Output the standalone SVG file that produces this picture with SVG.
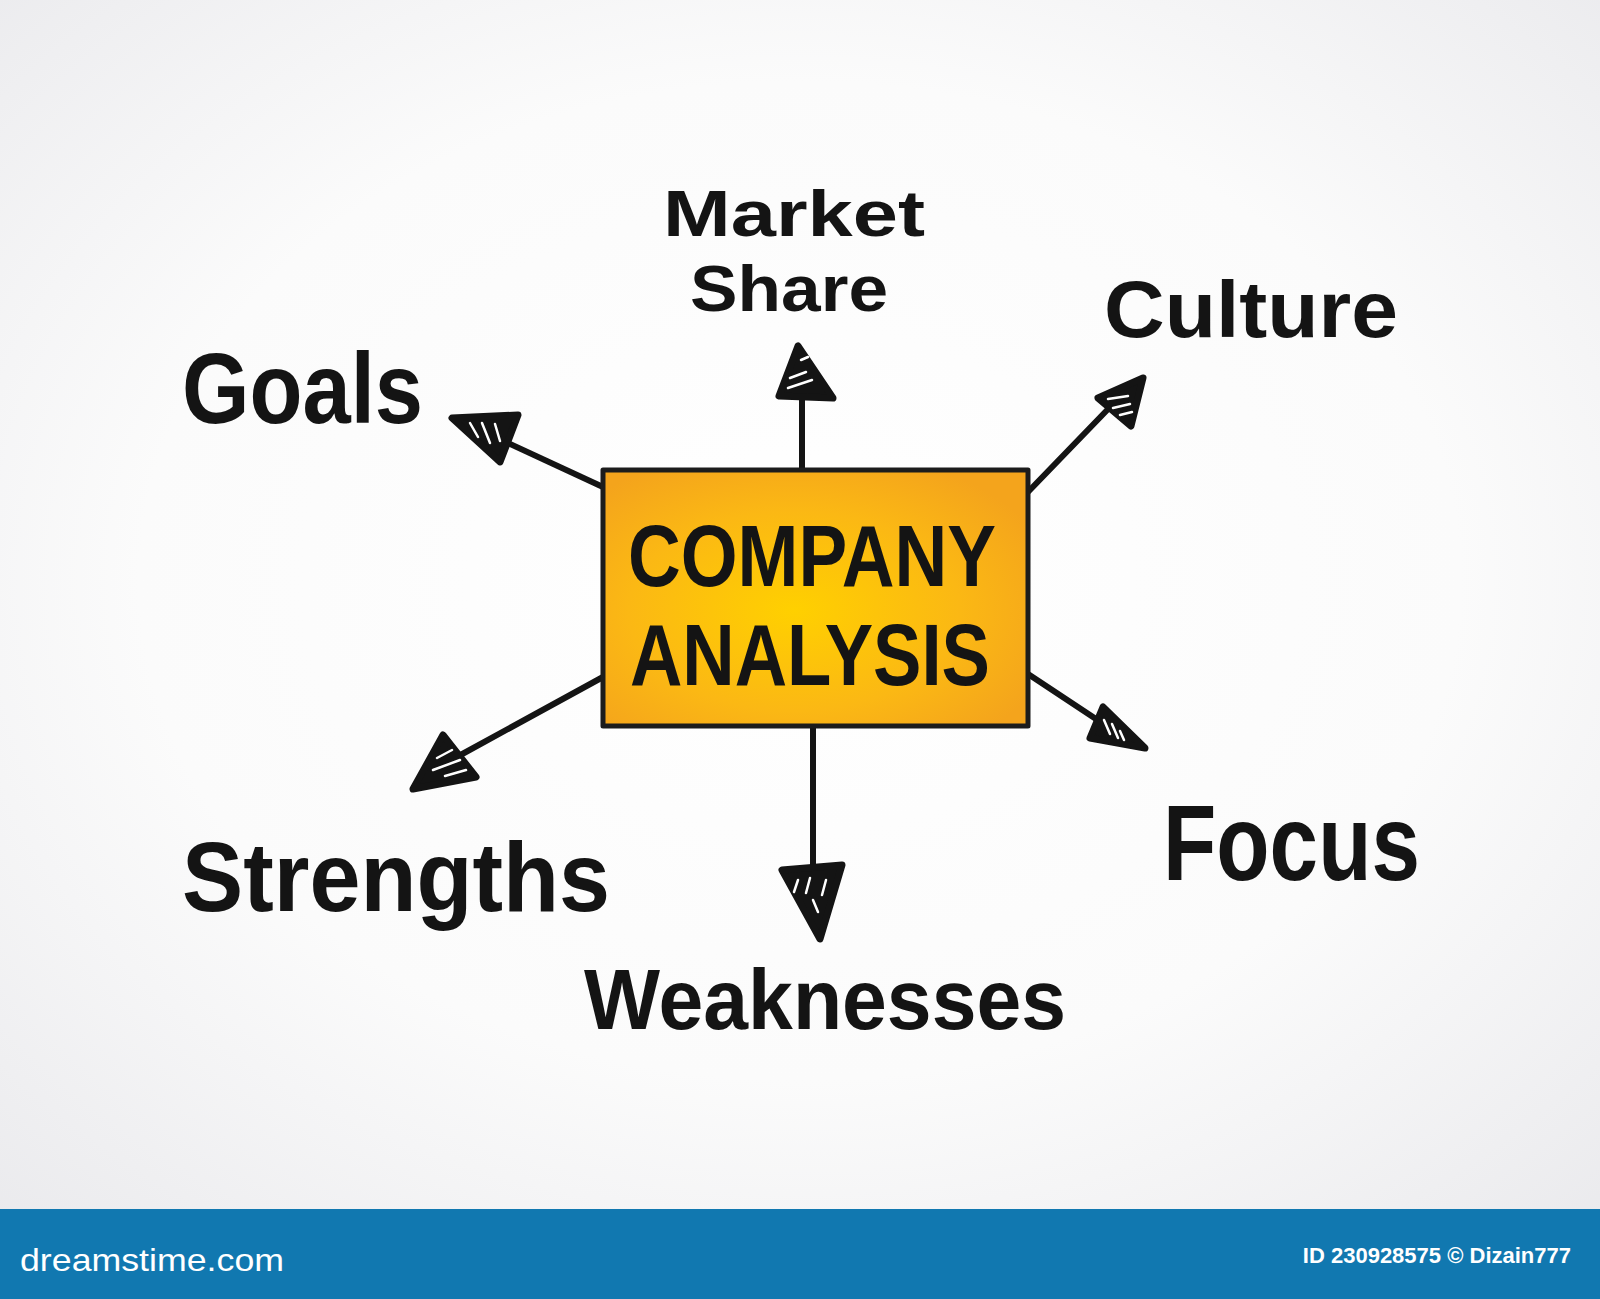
<svg xmlns="http://www.w3.org/2000/svg" width="1600" height="1299" viewBox="0 0 1600 1299">
<defs>
<radialGradient id="bg" cx="50%" cy="48%" r="75%">
<stop offset="0" stop-color="#ffffff"/>
<stop offset="0.55" stop-color="#fbfbfb"/>
<stop offset="1" stop-color="#e9e9ec"/>
</radialGradient>
<radialGradient id="boxg" cx="45%" cy="55%" r="65%">
<stop offset="0" stop-color="#ffd000"/>
<stop offset="0.6" stop-color="#fbb814"/>
<stop offset="1" stop-color="#f4a41c"/>
</radialGradient>
<style>
.lbl{font-family:"Liberation Sans",Arial,sans-serif;font-weight:700;fill:#141414;}
.conn{stroke:#141414;stroke-width:6;stroke-linecap:round;fill:none;}
.head{fill:#141414;stroke:#141414;stroke-width:7;stroke-linejoin:round;}
.hatch{stroke:#ffffff;stroke-width:2.5;stroke-linecap:round;fill:none;}
.foot{font-family:"Liberation Sans",Arial,sans-serif;fill:#ffffff;}
</style>
</defs>
<rect x="0" y="0" width="1600" height="1210" fill="url(#bg)"/>
<rect x="0" y="1209" width="1600" height="90" fill="#1178b0"/>

<g id="connectors">
<line class="conn" x1="802" y1="469" x2="802" y2="395"/>
<path class="head" d="M798 346 L779 396 L833 398 Z"/>
<path class="hatch" d="M790 378 L806 372 M788 388 L812 380 M801 360 L808 357"/>

<line class="conn" x1="603" y1="487" x2="495" y2="437"/>
<path class="head" d="M452 418 L518 415 L500 462 Z"/>
<path class="hatch" d="M470 423 L478 437 M482 423 L490 443 M495 424 L500 441"/>

<line class="conn" x1="1027" y1="493" x2="1112" y2="405"/>
<path class="head" d="M1143 378 L1098 398 L1131 426 Z"/>
<path class="hatch" d="M1108 399 L1128 396 M1113 408 L1130 404 M1120 415 L1132 412"/>

<line class="conn" x1="603" y1="677" x2="455" y2="758"/>
<path class="head" d="M413 789 L443 735 L476 777 Z"/>
<path class="hatch" d="M437 758 L452 750 M433 770 L460 760 M445 776 L466 770"/>

<line class="conn" x1="1025" y1="672" x2="1096" y2="719"/>
<path class="head" d="M1145 748 L1103 707 L1090 738 Z"/>
<path class="hatch" d="M1104 720 L1110 734 M1112 724 L1118 738 M1120 731 L1124 740"/>

<line class="conn" x1="813" y1="725" x2="813" y2="866"/>
<path class="head" d="M782 870 L842 865 L820 939 Z"/>
<path class="hatch" d="M798 880 L794 892 M810 878 L806 893 M826 880 L822 895 M813 900 L818 912"/>
</g>

<g id="node-center">
<rect x="603" y="470" width="425" height="256" fill="url(#boxg)" stroke="#1c1c1c" stroke-width="5" stroke-linejoin="round"/>
<text class="lbl" x="812" y="586" font-size="88" text-anchor="middle" textLength="368" lengthAdjust="spacingAndGlyphs">COMPANY</text>
<text class="lbl" x="810" y="685" font-size="88" text-anchor="middle" textLength="360" lengthAdjust="spacingAndGlyphs">ANALYSIS</text>
</g>

<g id="node-market-share">
<text class="lbl" x="663" y="236" font-size="65" textLength="262" lengthAdjust="spacingAndGlyphs">Market</text>
<text class="lbl" x="690" y="311" font-size="65" textLength="198" lengthAdjust="spacingAndGlyphs">Share</text>
</g>

<g id="node-culture">
<text class="lbl" x="1104" y="337" font-size="80" textLength="294" lengthAdjust="spacingAndGlyphs">Culture</text>
</g>

<g id="node-goals">
<text class="lbl" x="182" y="423" font-size="100" textLength="241" lengthAdjust="spacingAndGlyphs">Goals</text>
</g>

<g id="node-strengths">
<text class="lbl" x="182" y="911" font-size="98" textLength="428" lengthAdjust="spacingAndGlyphs">Strengths</text>
</g>

<g id="node-weaknesses">
<text class="lbl" x="584" y="1029" font-size="86" textLength="482" lengthAdjust="spacingAndGlyphs">Weaknesses</text>
</g>

<g id="node-focus">
<text class="lbl" x="1163" y="880" font-size="108" textLength="257" lengthAdjust="spacingAndGlyphs">Focus</text>
</g>

<g id="footer">
<text class="foot" x="20" y="1271" font-size="32" textLength="264" lengthAdjust="spacingAndGlyphs">dreamstime.com</text>
<text class="foot" x="1571" y="1263" font-size="22" font-weight="700" text-anchor="end">ID 230928575 © Dizain777</text>
</g>
</svg>
